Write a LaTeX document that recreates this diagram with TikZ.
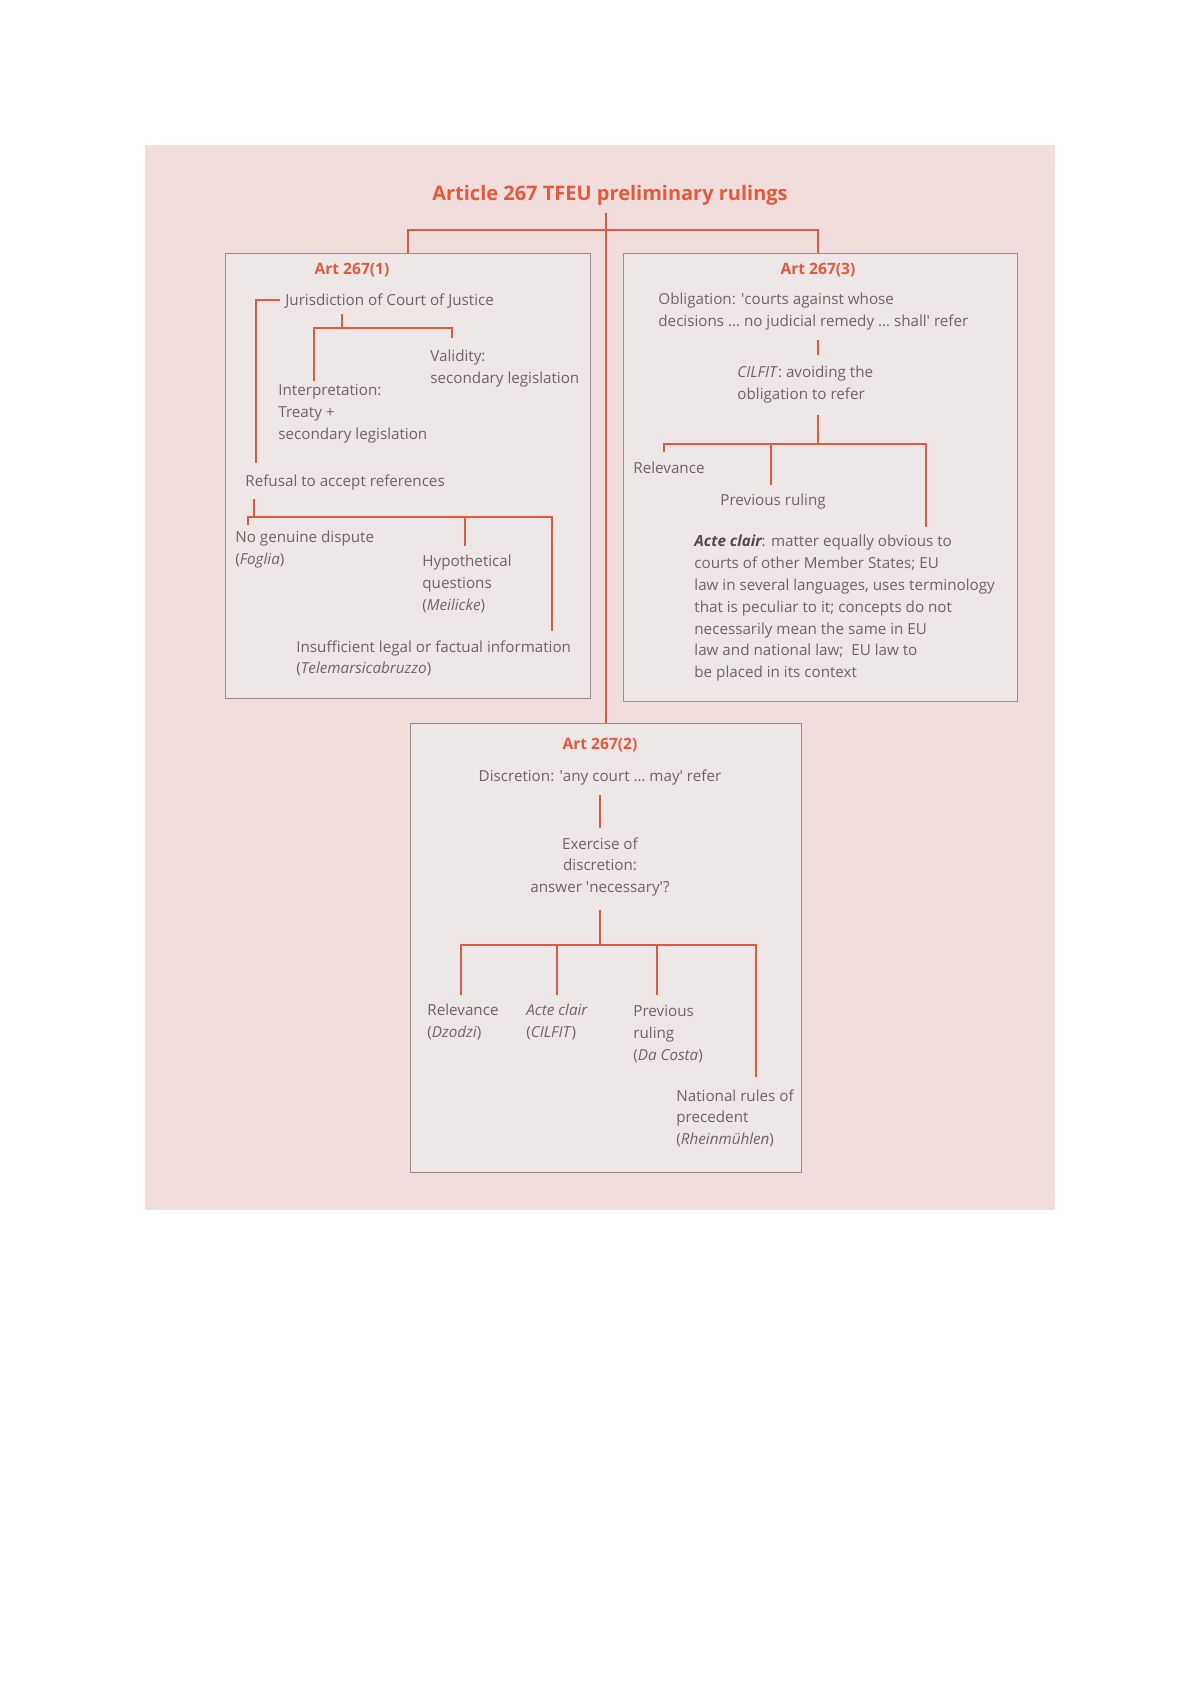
\documentclass[tikz,border=0pt]{standalone}
\usepackage{fontspec}
\setmainfont{Open Sans}
\usetikzlibrary{positioning}
\definecolor{rulered}{HTML}{E2593B}
\definecolor{textgrey}{HTML}{6E6464}
\definecolor{darkgrey}{HTML}{524848}
\definecolor{pagepink}{HTML}{F1DDDC}
\definecolor{boxgrey}{HTML}{EEE7E7}
\definecolor{edgegrey}{HTML}{9C8E8C}
\newcommand{\quo}{\textquotesingle}
\tikzset {
  % frame round each paragraph of the article
  panel/.style = {draw=edgegrey, fill=boxgrey, line width=0.4pt},
  % main heading and panel headings
  title/.style = {text=rulered, font=\fontsize{10}{12}\selectfont\bfseries, inner sep=0pt},
  head/.style = {text=rulered, font=\fontsize{7.8}{10}\selectfont\bfseries, inner sep=0pt},
  % plain text blocks
  item/.style = {text=textgrey, font=\fontsize{7.6}{10.9}\selectfont, align=left, inner sep=0pt, anchor=north west},
  centred/.style = {align=center, anchor=north},
  % connecting rules
  link/.style = {rulered, line width=0.7pt},
}

\begin{document}
\begin{tikzpicture}[x=0.5pt, y=-0.5pt]
  \useasboundingbox[fill=white] (0,0) rectangle (1200,1696);
  \fill[pagepink] (145,145) rectangle (1055,1210);

  % the three panels
  \draw[panel] (225,253) rectangle (590,698);
  \draw[panel] (623,253) rectangle (1017,701);
  \draw[panel] (410,723) rectangle (801,1172);

  \node[title] (title) at (610,195) {Article 267 TFEU preliminary rulings};
  \coordinate (top) at (606,213);
  \coordinate (hub) at (606,230);
  \coordinate (p1) at (408,253);
  \coordinate (p3) at (818,253);
  \coordinate (p2) at (606,723);
  \draw[link] (top) -- (p2);
  \draw[link] (p1) |- (hub) -| (p3);

  % Art 267(1)
  \node[head] (art1) at (352,270) {Art 267(1)};
  \node[item] (juris) at (285,293) {Jurisdiction of Court of Justice};
  \node[item] (valid) at (430,350) {Validity:\\secondary legislation};
  \node[item] (interp) at (278,384) {Interpretation:\\Treaty +\\secondary legislation};
  \node[item] (refusal) at (245,474) {Refusal to accept references};
  \node[item] (foglia) at (235,531) {No genuine dispute\\(\textit{Foglia})};
  \node[item] (meilicke) at (422,555) {Hypothetical\\questions\\(\textit{Meilicke})};
  \node[item] (telemar) at (296,640) {Insufficient legal or factual information\\(\textit{Telemarsicabruzzo})};

  \coordinate (jstart) at (280,300);
  \coordinate (jend) at (256,463);
  \draw[link] (jstart) -| (jend);
  \coordinate (jdown) at (342,314);
  \coordinate (jbar) at (342,328);
  \coordinate (iend) at (314,381);
  \coordinate (vend) at (452,338);
  \draw[link] (jdown) -- (jbar);
  \draw[link] (iend) |- (jbar) -| (vend);
  \coordinate (rdown) at (254,499);
  \coordinate (rbar) at (254,517);
  \coordinate (fend) at (248,525);
  \coordinate (mend) at (465,546);
  \coordinate (tend) at (552,631);
  \draw[link] (rdown) -- (rbar);
  \draw[link] (fend) |- (rbar) -| (tend);
  \draw[link] (mend) -- (mend |- rbar);

  % Art 267(3)
  \node[head] (art3) at (818,270) {Art 267(3)};
  \node[item] (oblig) at (658,293) {Obligation: \quo courts against whose\\decisions \ldots{} no judicial remedy \ldots{} shall\quo{} refer};
  \node[item] (cilfit) at (737,366) {\textit{CILFIT}: avoiding the\\obligation to refer};
  \node[item] (relev3) at (633,462) {Relevance};
  \node[item] (prev3) at (720,494) {Previous ruling};
  \node[item] (acte3) at (694,535) {{\color{darkgrey}\bfseries\itshape Acte clair}: matter equally obvious to\\courts of other Member States; EU\\law in several languages, uses terminology\\that is peculiar to it; concepts do not\\necessarily mean the same in EU\\law and national law;\ \ EU law to\\be placed in its context};

  \coordinate (odown) at (818,340);
  \coordinate (oend) at (818,355);
  \draw[link] (odown) -- (oend);
  \coordinate (cdown) at (818,415);
  \coordinate (cbar) at (818,444);
  \coordinate (r3end) at (664,452);
  \coordinate (pr3end) at (771,485);
  \coordinate (a3end) at (926,527);
  \draw[link] (cdown) -- (cbar);
  \draw[link] (r3end) |- (cbar) -| (a3end);
  \draw[link] (pr3end) -- (pr3end |- cbar);

  % Art 267(2)
  \node[head] (art2) at (600,745) {Art 267(2)};
  \node[item, centred] (discr) at (600,769) {Discretion: \quo any court \ldots{} may\quo{} refer};
  \node[item, centred] (exerc) at (600,837) {Exercise of\\discretion:\\answer \quo necessary\quo?};
  \node[item] (relev2) at (427,1004) {Relevance\\(\textit{Dzodzi})};
  \node[item] (acte2) at (526,1004) {\textit{Acte clair}\\(\textit{CILFIT})};
  \node[item] (prev2) at (633,1005) {Previous\\ruling\\(\textit{Da Costa})};
  \node[item] (natrules) at (676,1089) {National rules of\\precedent\\(\textit{Rheinmühlen})};

  \coordinate (ddown) at (600,795);
  \coordinate (dend) at (600,828);
  \draw[link] (ddown) -- (dend);
  \coordinate (edown) at (600,910);
  \coordinate (ebar) at (600,945);
  \coordinate (rl2) at (461,995);
  \coordinate (ac2) at (557,995);
  \coordinate (pv2) at (657,995);
  \coordinate (nr2) at (756,1077);
  \draw[link] (edown) -- (ebar);
  \draw[link] (rl2) |- (ebar) -| (nr2);
  \foreach \c in {ac2, pv2}
    \draw[link] (\c) -- (\c |- ebar);
\end{tikzpicture}
\end{document}
